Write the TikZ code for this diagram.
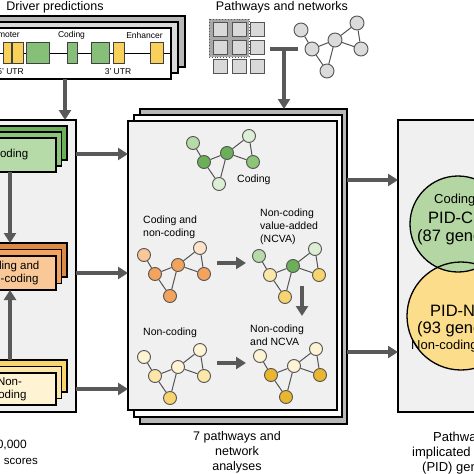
\documentclass[tikz,border=0pt]{standalone}
\usepackage{fontspec}
\setmainfont{Liberation Sans}
\usetikzlibrary{arrows.meta,positioning}
\definecolor{panelFill}{gray}{0.94}
\definecolor{arrowGray}{gray}{0.35}
\definecolor{edgeGray}{gray}{0.33}
\definecolor{backDark}{gray}{0.72}
\definecolor{backLight}{gray}{0.86}
\definecolor{gridFill}{gray}{0.85}
\definecolor{gridDark}{gray}{0.66}
\definecolor{nodeGray}{gray}{0.86}
\definecolor{grnA}{HTML}{DCEFD5}
\definecolor{grnB}{HTML}{B7DBA8}
\definecolor{grnC}{HTML}{8CC47A}
\definecolor{grnD}{HTML}{6BAF58}
\definecolor{orgA}{HTML}{FDE3CA}
\definecolor{orgB}{HTML}{F9C896}
\definecolor{orgC}{HTML}{F2A45E}
\definecolor{orgD}{HTML}{DC8B45}
\definecolor{ylwA}{HTML}{FEF3D2}
\definecolor{ylwB}{HTML}{FDE7A8}
\definecolor{ylwC}{HTML}{F8D46E}
\definecolor{ylwD}{HTML}{E9B62F}
\definecolor{geneGrn}{HTML}{86C078}
\definecolor{geneYlw}{HTML}{F8D05A}
\definecolor{pidGrn}{HTML}{B3D6A3}
\definecolor{pidYlw}{HTML}{FBDD8C}

% small network: prefix, centre, six fills
\newcommand{\drawnet}[8]{%
  \begin{scope}[shift={(#2)}]
    \node[dot, fill=#3] (#1-1) at (-34,-10) {};
    \node[dot, fill=#4] (#1-2) at (-23,9) {};
    \node[dot, fill=#5] (#1-3) at (0,0) {};
    \node[dot, fill=#6] (#1-4) at (22,-17) {};
    \node[dot, fill=#7] (#1-5) at (26,9) {};
    \node[dot, fill=#8] (#1-6) at (-8,31) {};
    \foreach \a/\b in {1/2,2/3,2/6,3/6,3/4,4/5,3/5}
      \draw[link] (#1-\a) -- (#1-\b);
  \end{scope}}

\begin{document}
\begin{tikzpicture}[x=1pt,y=-1pt,
	box/.style={draw, line width=1.2pt, inner sep=0pt, outer sep=0pt},
	panel/.style={box, fill=panelFill},
	gene/.style={draw=black!75, line width=0.8pt, inner sep=0pt, minimum height=21pt},
	sq/.style={draw=edgeGray, fill=gridFill, line width=0.8pt, minimum size=14pt, inner sep=0pt},
	dot/.style={circle, draw=edgeGray, line width=0.9pt, minimum size=13pt, inner sep=0pt},
	link/.style={draw=edgeGray, line width=1pt},
	arr/.style={draw=arrowGray, line width=3.5pt, -{Triangle[length=10pt,width=12pt]}},
	head/.style={font=\fontsize{12.5}{15}\selectfont, inner sep=0pt, align=center},
	tag/.style={font=\fontsize{8.5}{10}\selectfont, inner sep=0pt},
	lbl/.style={font=\fontsize{10.5}{13}\selectfont, inner sep=0pt, align=left},
	stk/.style={font=\fontsize{11.5}{13}\selectfont, inner sep=0pt, align=center},
	pid/.style={font=\fontsize{16.5}{19}\selectfont, inner sep=0pt},
	pidsm/.style={font=\fontsize{13}{15}\selectfont, inner sep=0pt},
	]
	\useasboundingbox (0,0) rectangle (474,474);
	\clip (0,0) rectangle (474,474);
	
	% driver predictions
	\node [head, anchor=base] (drvT) at (55,10) {Driver predictions};
	\node [box, fill=backDark, minimum width=201pt, minimum height=51pt] (drv3) at (84.5,41.5) {};
	\node [box, fill=backLight, minimum width=201pt, minimum height=51pt] (drv2) at (77.5,47.5) {};
	\node [box, fill=white, minimum width=201pt, minimum height=51pt] (drv1) at (70.5,53.5) {};
	\draw [line width=1pt] (drv1.west |- 0,53) -- (drv1.east |- 0,53);
	\node [gene, fill=geneYlw, minimum width=8pt] (e1) at (7,53) {};
	\node [gene, fill=geneYlw, minimum width=11pt] (e2) at (17.5,53) {};
	\node [gene, fill=geneGrn, minimum width=23pt] (e3) at (37.5,53) {};
	\node [gene, fill=geneGrn, minimum width=10pt] (e4) at (72,53) {};
	\node [gene, fill=geneGrn, minimum width=18pt] (e5) at (100,53) {};
	\node [gene, fill=geneYlw, minimum width=11pt] (e6) at (118.5,53) {};
	\node [gene, fill=geneYlw, minimum width=13pt] (e7) at (156.5,53) {};
	\node [tag, anchor=east] (tPro) at (20,35) {Promoter};
	\node [tag] (tCod) at (71.5,35) {Coding};
	\node [tag] (tEnh) at (144.5,35) {Enhancer};
	\node [tag, anchor=east] (t5) at (24,72) {5' UTR};
	\node [tag] (t3) at (118,72) {3' UTR};
	
	% pathways and networks
	\node [head, anchor=base] (pwT) at (282,10) {Pathways and networks};
	\draw [dotted, draw=edgeGray, fill=gridDark, line width=0.9pt] (209,19) rectangle (249,57);
	\foreach \i [count=\c] in {220,239,257.5}
	\foreach \j [count=\r] in {29.5,47.5,66}
	\node [sq] (sq-\c-\r) at (\i,\j) {};
	\begin{scope}[dot/.append style={minimum size=14pt, fill=nodeGray}]
	\drawnet{pw}{335,40}{nodeGray}{nodeGray}{nodeGray}{nodeGray}{nodeGray}{nodeGray}
	\end{scope}
	\coordinate (barL) at (270,49);
	\coordinate (barR) at (298,49);
	\coordinate (barM) at (284,49);
	\draw [draw=arrowGray, line width=4.5pt] (barL) -- (barR);
	
	% left panel
	\node [panel, minimum width=96pt, minimum height=292pt] (left) at (28,266) {};
	\node [box, fill=grnD, minimum width=92pt, minimum height=34pt] (g3) at (21,143) {};
	\node [box, fill=grnC, minimum width=92pt, minimum height=34pt] (g2) at (15.5,149) {};
	\node [box, fill=grnB, minimum width=92pt, minimum height=34pt] (g1) at (10,155) {};
	\node [stk] at (g1) {Coding};
	\node [box, fill=orgD, minimum width=92pt, minimum height=34pt] (o3) at (21,260) {};
	\node [box, fill=orgC, minimum width=92pt, minimum height=34pt] (o2) at (15.5,266.5) {};
	\node [box, fill=orgB, minimum width=92pt, minimum height=34pt] (o1) at (10,273) {};
	\node [stk] at (o1) {Coding and\\non-coding};
	\node [box, fill=ylwC, minimum width=92pt, minimum height=32pt] (y3) at (21,376) {};
	\node [box, fill=ylwB, minimum width=92pt, minimum height=32pt] (y2) at (15.5,382.5) {};
	\node [box, fill=ylwA, minimum width=92pt, minimum height=32pt] (y1) at (10,389) {};
	\node [stk] at (9.5,389) {Non-\\coding};
	\draw [arr] (g1.south) -- (g1.south |- o3.north);
	\draw [arr] (y1.north |- y3.north) -- (o1.south);
	\node [head, font=\fontsize{12}{15}\selectfont, anchor=base east] (sc1) at (27,448) {0,000};
	\node [head, font=\fontsize{11.5}{15}\selectfont, anchor=base east] (sc2) at (38,464) {scores};
	
	% middle panel
	\node [box, fill=backDark, minimum width=207pt, minimum height=315pt] (mid3) at (243.5,266.5) {};
	\node [box, fill=white, minimum width=208pt, minimum height=302pt] (mid2) at (238,266) {};
	\node [panel, minimum width=209pt, minimum height=289pt] (mid1) at (232.5,265.5) {};
	\drawnet{cd}{227,153}{grnB}{grnD}{grnD}{grnA}{grnC}{grnA}
	\node [lbl, anchor=west] (lCd) at (237,180) {Coding};
	\node [lbl, anchor=west] (lCn) at (143,227.5) {Coding and\\non-coding};
	\drawnet{cn}{178,265}{orgB}{orgC}{orgC}{orgA}{orgC}{orgC}
	\node [lbl, anchor=west] (lNv) at (260,227) {Non-coding\\value-added\\(NCVA)};
	\drawnet{nv}{293,266}{grnB}{ylwB}{grnD}{grnA}{ylwC}{ylwC}
	\node [lbl, anchor=west] (lNc) at (143,333) {Non-coding};
	\drawnet{nc}{178,367}{ylwA}{ylwB}{ylwA}{ylwA}{ylwB}{ylwC}
	\node [lbl, anchor=west] (lNn) at (250,335) {Non-coding\\and NCVA};
	\drawnet{nn}{294,366}{ylwA}{ylwD}{ylwA}{ylwA}{ylwD}{ylwD}
	\coordinate (a1s) at (217,263);
	\coordinate (a1e) at (246,263);
	\coordinate (a2s) at (217,363);
	\coordinate (a2e) at (246,363);
	\coordinate (a3s) at (302,286);
	\coordinate (a3e) at (302,316);
	\draw [arr] (a1s) -- (a1e);
	\draw [arr] (a2s) -- (a2e);
	\draw [arr] (a3s) -- (a3e);
	\node [head] (midT) at (237,452) {7 pathways and\\network\\analyses};
	
	% right panel
	\node [panel, minimum width=102pt, minimum height=292pt] (right) at (449,266) {};
	\fill [pidYlw] (461,316) circle (54);
	\fill [pidGrn] (458,224) circle (48);
	\draw [line width=1.3pt] (461,316) circle (54);
	\draw [line width=1.3pt] (458,224) circle (48);
	\node [pidsm, anchor=west] (pc1) at (434,200) {Coding-};
	\node [pid, anchor=west] (pc2) at (428,218) {PID-C};
	\node [pid, anchor=west] (pc3) at (417,237) {(87 genes)};
	\node [pid, anchor=west] (pn1) at (430,311) {PID-N};
	\node [pid, anchor=west] (pn2) at (417,329) {(93 genes)};
	\node [pidsm, anchor=west] (pn3) at (411,346) {Non-coding};
	\node [head, font=\fontsize{13}{15}\selectfont, anchor=base west] (rt1) at (433,441) {Pathway-};
	\node [head, font=\fontsize{13}{15}\selectfont, anchor=base west] (rt2) at (412,456) {implicated};
	\node [head, font=\fontsize{13}{15}\selectfont, anchor=base west] (rt3) at (422,471) {(PID) genes};
	
	% connectors between panels
	\draw [arr] (drv1.south -| 65,0) -- (left.north -| 65,0);
	\draw [arr] (barM) -- (barM |- mid3.north);
	\draw [arr] (left.east |- 0,154) -- (mid1.west |- 0,154);
	\draw [arr] (left.east |- o1.east) -- (mid1.west |- o1.east);
	\draw [arr] (left.east |- y1.east) -- (mid1.west |- y1.east);
	\draw [arr] (mid3.east |- 0,180) -- (right.west |- 0,180);
	\draw [arr] (mid3.east |- 0,352) -- (right.west |- 0,352);
\end{tikzpicture}
\end{document}
